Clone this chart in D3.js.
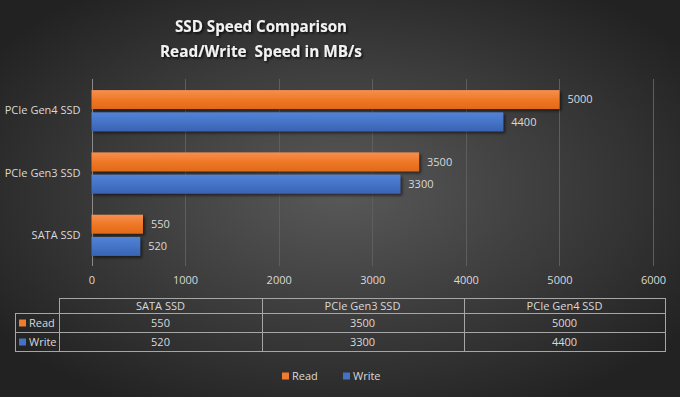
<!DOCTYPE html>
<html>
<head>
<meta charset="utf-8">
<script src="https://cdn.jsdelivr.net/npm/d3@7"></script>
<style>
  body { margin: 0; background: #2b2b2b; }
  svg { display: block; }
  text { font-family: "Open Sans", "Noto Sans", sans-serif; }
</style>
</head>
<body>
<script>
// chart data
var categories = ["SATA SSD", "PCIe Gen3 SSD", "PCIe Gen4 SSD"];
var seriesNames = ["Read", "Write"];
var readValues = [550, 3500, 5000];
var writeValues = [520, 3300, 4400];
var xTicks = [0, 1000, 2000, 3000, 4000, 5000, 6000];

var svgWidth = 680;
var svgHeight = 397;

var seriesColors = { Read: "#ef7b2c", Write: "#4472c4" };
var textColor = "#d9d9d9";

// rows used by the bars and the table
var data = categories.map(function (c, i) {
  return { category: c, Read: readValues[i], Write: writeValues[i] };
});

var svg = d3.select("body")
  .append("svg")
  .attr("width", svgWidth)
  .attr("height", svgHeight);

var defs = svg.append("defs");

// background gradient
var bg = defs.append("radialGradient")
  .attr("id", "bg")
  .attr("cx", "50%").attr("cy", "48%").attr("r", "62%");
bg.append("stop").attr("offset", "0%").attr("stop-color", "#595959");
bg.append("stop").attr("offset", "100%").attr("stop-color", "#222222");

// bar gradients
var barStops = {
  Read: ["#f68f4f", "#ee7624", "#e06a1a"],
  Write: ["#5283d8", "#4472c4", "#3a63b4"]
};
seriesNames.forEach(function (s) {
  var g = defs.append("linearGradient")
    .attr("id", "grad-" + s)
    .attr("x1", 0).attr("y1", 0).attr("x2", 0).attr("y2", 1);
  g.append("stop").attr("offset", "0%").attr("stop-color", barStops[s][0]);
  g.append("stop").attr("offset", "55%").attr("stop-color", barStops[s][1]);
  g.append("stop").attr("offset", "100%").attr("stop-color", barStops[s][2]);
});

// shadows
defs.append("filter").attr("id", "barShadow")
  .attr("x", "-5%").attr("y", "-20%").attr("width", "115%").attr("height", "160%")
  .append("feDropShadow")
  .attr("dx", 2).attr("dy", 2).attr("stdDeviation", 1.5)
  .attr("flood-color", "#000").attr("flood-opacity", 0.55);

defs.append("filter").attr("id", "titleShadow")
  .append("feDropShadow")
  .attr("dx", 1.5).attr("dy", 1.5).attr("stdDeviation", 1)
  .attr("flood-color", "#000").attr("flood-opacity", 0.8);

svg.append("rect")
  .attr("width", svgWidth)
  .attr("height", svgHeight)
  .attr("fill", "url(#bg)");

// title
var title = svg.append("g")
  .attr("fill", "#f2f2f2")
  .attr("font-size", "16px")
  .attr("font-weight", "bold")
  .attr("filter", "url(#titleShadow)");
title.append("text")
  .attr("x", 175).attr("y", 32)
  .attr("textLength", 172)
  .attr("lengthAdjust", "spacingAndGlyphs")
  .text("SSD Speed Comparison");
title.append("text")
  .attr("x", 160).attr("y", 57)
  .attr("textLength", 202)
  .attr("lengthAdjust", "spacingAndGlyphs")
  .attr("xml:space", "preserve")
  .text("Read/Write  Speed in MB/s");

// scales
var xScale = d3.scaleLinear()
  .domain([0, 6000])
  .range([91.5, 653]);

var yScale = d3.scaleBand()
  .domain(categories.slice().reverse())
  .range([79.5, 266.5])
  .paddingInner(0.339)
  .paddingOuter(0.17);

var ySub = d3.scaleBand()
  .domain(seriesNames)
  .range([0, yScale.bandwidth()])
  .paddingInner(0.15);

// gridlines
svg.append("g")
  .selectAll("line")
  .data(xTicks)
  .enter()
  .append("line")
  .attr("x1", d => Math.round(xScale(d)) + 0.5)
  .attr("x2", d => Math.round(xScale(d)) + 0.5)
  .attr("y1", 79)
  .attr("y2", 266)
  .attr("stroke", d => d === 0 ? "#8a8a8a" : "#5e5e5e")
  .attr("stroke-width", 1);

// x axis labels
var bottomAxis = d3.axisBottom(xScale)
  .tickValues(xTicks)
  .tickSize(0)
  .tickPadding(0)
  .tickFormat(d3.format("d"));

var xAxis = svg.append("g")
  .attr("transform", "translate(0, 276)")
  .call(bottomAxis);
xAxis.select(".domain").remove();
xAxis.selectAll("text")
  .attr("fill", textColor)
  .attr("font-size", "11px")
  .attr("font-family", "'Open Sans', sans-serif");

// category labels
var leftAxis = d3.axisLeft(yScale)
  .tickSize(0)
  .tickPadding(11);
var yAxis = svg.append("g")
  .attr("transform", "translate(91.5, 0)")
  .call(leftAxis);
yAxis.select(".domain").remove();
yAxis.selectAll("text")
  .attr("fill", textColor)
  .attr("font-size", "11px")
  .attr("font-family", "'Open Sans', sans-serif");

// bars
var groups = svg.append("g")
  .selectAll("g")
  .data(data)
  .enter()
  .append("g")
  .attr("transform", d => `translate(0, ${yScale(d.category)})`);

var bars = groups.selectAll("g")
  .data(d => seriesNames.map(s => ({ series: s, value: d[s] })))
  .enter()
  .append("g");

bars.append("rect")
  .attr("x", xScale(0))
  .attr("y", d => ySub(d.series))
  .attr("width", d => xScale(d.value) - xScale(0))
  .attr("height", ySub.bandwidth())
  .attr("fill", d => "url(#grad-" + d.series + ")")
  .attr("filter", "url(#barShadow)");

bars.append("text")
  .attr("x", d => xScale(d.value) + 8)
  .attr("y", d => ySub(d.series) + ySub.bandwidth() / 2)
  .attr("dy", "0.35em")
  .attr("fill", textColor)
  .attr("font-size", "11px")
  .text(d => d.value);

// data table
var tableLeft = 15.5;
var headLeft = 59.5;
var tableRight = 665.5;
var rowYs = [298.5, 313.5, 332.5, 351.5];

var colScale = d3.scaleBand()
  .domain(categories)
  .range([headLeft, tableRight]);

var table = svg.append("g")
  .attr("stroke", "#a6a6a6")
  .attr("stroke-width", 1)
  .attr("fill", "none");

table.append("rect")
  .attr("x", headLeft)
  .attr("y", rowYs[0])
  .attr("width", tableRight - headLeft)
  .attr("height", rowYs[3] - rowYs[0]);
table.append("rect")
  .attr("x", tableLeft)
  .attr("y", rowYs[1])
  .attr("width", tableRight - tableLeft)
  .attr("height", rowYs[3] - rowYs[1]);
table.append("line")
  .attr("x1", tableLeft).attr("x2", tableRight)
  .attr("y1", rowYs[2]).attr("y2", rowYs[2]);
table.selectAll(".col")
  .data(categories.slice(1))
  .enter()
  .append("line")
  .attr("x1", d => Math.round(colScale(d)) + 0.5)
  .attr("x2", d => Math.round(colScale(d)) + 0.5)
  .attr("y1", rowYs[0]).attr("y2", rowYs[3]);

// header texts
svg.append("g")
  .selectAll("text")
  .data(categories)
  .enter()
  .append("text")
  .attr("x", d => colScale(d) + colScale.bandwidth() / 2)
  .attr("y", (rowYs[0] + rowYs[1]) / 2)
  .attr("dy", "0.35em")
  .attr("text-anchor", "middle")
  .attr("fill", textColor)
  .attr("font-size", "11px")
  .text(d => d);

// row texts
var seriesValues = { Read: readValues, Write: writeValues };
seriesNames.forEach(function (s, r) {
  var cy = (rowYs[r + 1] + rowYs[r + 2]) / 2;
  svg.append("rect")
    .attr("x", 19)
    .attr("y", cy - 3.5)
    .attr("width", 7)
    .attr("height", 7)
    .attr("fill", seriesColors[s]);
  svg.append("text")
    .attr("x", 29)
    .attr("y", cy)
    .attr("dy", "0.35em")
    .attr("fill", textColor)
    .attr("font-size", "11px")
    .text(s);
  svg.append("g")
    .selectAll("text")
    .data(seriesValues[s])
    .enter()
    .append("text")
    .attr("x", (d, i) => colScale(categories[i]) + colScale.bandwidth() / 2)
    .attr("y", cy)
    .attr("dy", "0.35em")
    .attr("text-anchor", "middle")
    .attr("fill", textColor)
    .attr("font-size", "11px")
    .text(d => d);
});

// legend
var legendX = { Read: 282, Write: 343 };
var legend = svg.append("g")
  .selectAll("g")
  .data(seriesNames)
  .enter()
  .append("g")
  .attr("transform", d => `translate(${legendX[d]}, 376)`);
legend.append("rect")
  .attr("x", 0)
  .attr("y", -3.5)
  .attr("width", 7)
  .attr("height", 7)
  .attr("fill", d => seriesColors[d]);
legend.append("text")
  .attr("x", 10)
  .attr("dy", "0.35em")
  .attr("fill", textColor)
  .attr("font-size", "11px")
  .text(d => d);
</script>
</body>
</html>
